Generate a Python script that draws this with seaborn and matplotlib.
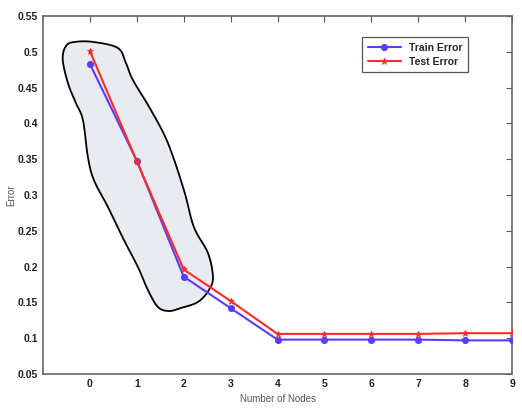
import numpy as np
import pandas as pd
import seaborn as sns
import matplotlib.pyplot as plt
from matplotlib.patches import Polygon

# values
nodes = [0, 1, 2, 3, 4, 5, 6, 7, 8, 9]
train_err = [0.483, 0.348, 0.186, 0.142, 0.098, 0.098, 0.098, 0.098, 0.097, 0.097]
test_err = [0.501, 0.347, 0.196, 0.152, 0.106, 0.106, 0.106, 0.106, 0.107, 0.107]

# hand drawn outline round the first three points (data coords)
blob_x = [-0.58, -0.50, -0.30, 0.085, 0.597, 0.768, 0.917, 1.301, 1.663, 2.004, 2.217,
          2.516, 2.623, 2.537, 2.303, 1.940, 1.684, 1.450, 1.237, 1.023, 0.725,
          0.384, 0.085, -0.043, -0.149, -0.299, -0.469]
blob_y = [0.4900, 0.5090, 0.5140, 0.5137, 0.5053, 0.4844, 0.4606, 0.4187, 0.3726, 0.307, 0.2553,
          0.219, 0.1855, 0.1673, 0.1506, 0.1422, 0.138, 0.1436, 0.1673, 0.1994, 0.2372,
          0.2832, 0.3209, 0.3531, 0.4047, 0.4285, 0.4564]


def catmull_closed(xs, ys, n=20):
    p = np.column_stack([xs, ys])
    m = len(p)
    out = []
    t = np.linspace(0, 1, n, endpoint=False)[:, None]
    for i in range(m):
        p0, p1, p2, p3 = p[i - 1], p[i], p[(i + 1) % m], p[(i + 2) % m]
        seg = 0.5 * ((2 * p1) + (-p0 + p2) * t + (2 * p0 - 5 * p1 + 4 * p2 - p3) * t ** 2
                     + (-p0 + 3 * p1 - 3 * p2 + p3) * t ** 3)
        out.append(seg)
    return np.vstack(out)


sns.set_style("white")
plt.rcParams['font.family'] = ['Liberation Sans', 'DejaVu Sans']

df = pd.DataFrame({"Nodes": nodes * 2,
                   "Error": train_err + test_err,
                   "Kind": ["Train Error"] * 10 + ["Test Error"] * 10})

fig = plt.figure(figsize=(5.22, 4.11), dpi=100)
ax = fig.add_axes([0.0824, 0.090, 0.8985, 0.871])

ax.add_patch(Polygon(catmull_closed(blob_x, blob_y), closed=True, facecolor="#e8ebf0",
                     edgecolor="black", linewidth=1.3, zorder=1))

sns.lineplot(data=df, x="Nodes", y="Error", hue="Kind", style="Kind",
             palette={"Train Error": "#5a3cff", "Test Error": "#ff2a2a"},
             markers={"Train Error": "o", "Test Error": "*"},
             dashes=False, markersize=4.5, markeredgewidth=0.6, linewidth=1.5,
             ax=ax, zorder=3)
for ln in ax.lines:
    ln.set_markeredgecolor(ln.get_color())

ax.set_xlim(-1, 9)
ax.set_ylim(0.05, 0.55)
ax.set_xticks(nodes)
ax.set_yticks(np.arange(0.05, 0.551, 0.05))
ax.set_yticklabels(['0.05', '0.1', '0.15', '0.2', '0.25', '0.3', '0.35', '0.4', '0.45', '0.5', '0.55'])
ax.tick_params(direction="in", length=4, width=0.8, color="#555555", top=True, right=True,
               labelsize=7.5, labelcolor="#222222")
for lab in ax.get_xticklabels() + ax.get_yticklabels():
    lab.set_fontweight("bold")
for sp in ax.spines.values():
    sp.set_color("#666666")
    sp.set_linewidth(1.2)

ax.set_xlabel("Number of Nodes", fontsize=7, color="#555555", labelpad=4)
ax.set_ylabel("Error", fontsize=7, color="#555555", labelpad=1)

leg = ax.legend(loc="upper left", bbox_to_anchor=(0.67, 0.955), fancybox=False,
                edgecolor="#555555", framealpha=1, fontsize=7.5, handlelength=3.2,
                borderpad=0.5, labelspacing=0.4)
leg.get_frame().set_linewidth(0.9)
for t in leg.get_texts():
    t.set_fontweight("bold")

fig.savefig("out.png", dpi=100)
